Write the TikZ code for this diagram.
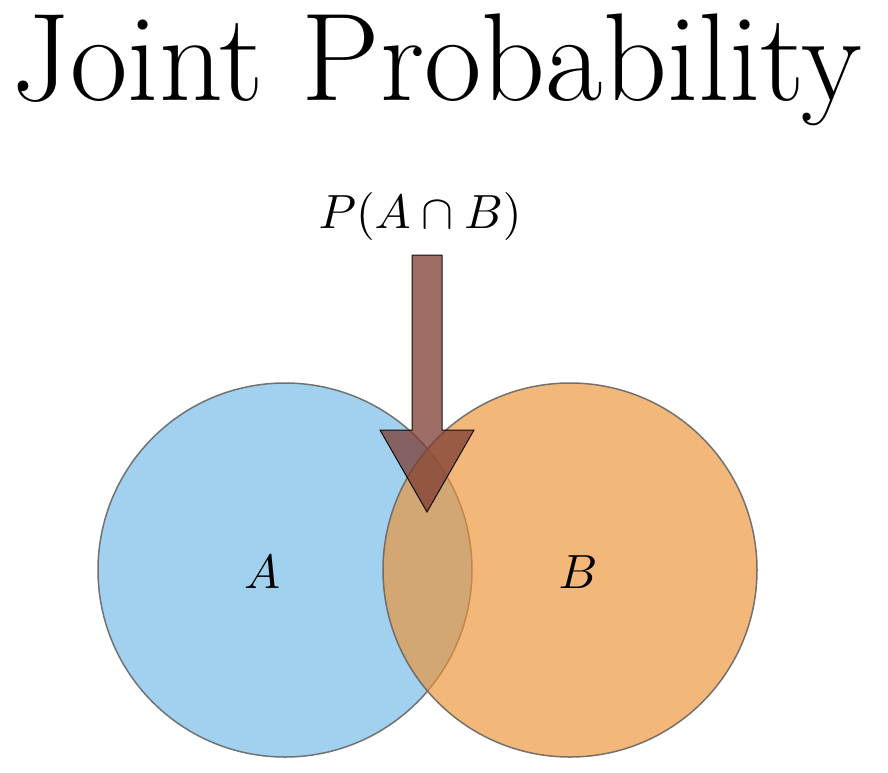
\documentclass[tikz,border=0pt]{standalone}
\usepackage{tikz}
\begin{document}
\begin{tikzpicture}[x=1pt,y=-1pt]

\definecolor{setA}{RGB}{110,185,230}
\definecolor{setB}{RGB}{238,145,50}
\definecolor{arrowbrown}{RGB}{125,60,50}
\tikzstyle{setcircle}=[draw=black!60,line width=1.5pt,fill opacity=0.65,draw opacity=0.9];
\newcommand{\bigmath}[1]{\scalebox{4.8}{$#1$}}

\useasboundingbox (0,0) rectangle (888,772);

% The two sets
\node[setcircle,circle,fill=setA,minimum size=374pt] (setA) at (285,570) {};
\node[setcircle,circle,fill=setB,minimum size=374pt] (setB) at (570,570) {};
\node (labA) at (262,572) {\bigmath{A}};
\node (labB) at (578,572) {\bigmath{B}};

% Title texts
\node[anchor=base] (title) at (437,100) {\fontsize{125}{140}\selectfont Joint Probability};
\node[anchor=base] (joint) at (420,228) {\bigmath{P(A\cap B)}};

% Arrow into the overlap
\coordinate (tip) at (427,512);
\fill[arrowbrown,fill opacity=0.75,draw=black,draw opacity=0.9,line width=1pt]
  (412,255) -- (442,255) -- (442,430) -- (474,430) -- (tip) -- (380,430) -- (412,430) -- cycle;

\end{tikzpicture}
\end{document}
